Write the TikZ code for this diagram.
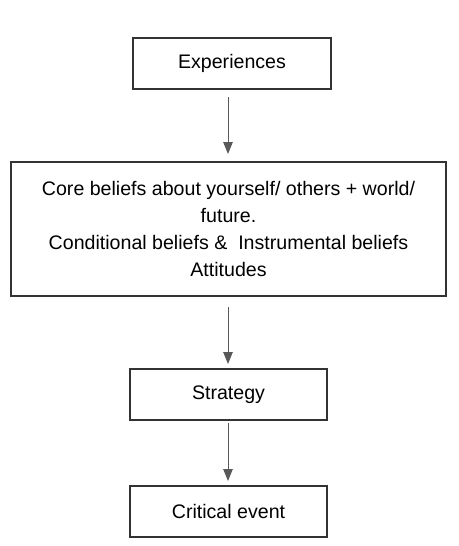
\documentclass[tikz,border=0pt]{standalone}
\usepackage{fontspec}
\setmainfont{Liberation Sans}
\usetikzlibrary{arrows.meta}
\definecolor{boxline}{HTML}{333333}
\definecolor{arrowline}{HTML}{595959}
\begin{document}
\begin{tikzpicture}[x=1pt,y=-1pt,
  box/.style={draw=boxline,line width=1.2pt,inner sep=0pt,font=\fontsize{19.6}{27.3}\selectfont,align=center},
  conn/.style={draw=arrowline,line width=1pt,-{Triangle[width=9.5pt,length=12pt]}}]
\useasboundingbox (0,0) rectangle (458,546);
\node[box,minimum width=198pt,minimum height=51pt] (exp) at (232,63.5) {Experiences};
\node[box,minimum width=435pt,minimum height=134pt] (core) at (228.5,229) {Core beliefs about yourself/ others + world/\\future.\\Conditional beliefs \&\ \ Instrumental beliefs\\Attitudes};
\node[box,minimum width=197pt,minimum height=51pt] (strat) at (228.5,394.5) {Strategy};
\node[box,minimum width=197pt,minimum height=51pt] (crit) at (228.5,511.5) {Critical event};
\coordinate (a1s) at (228,97);
\coordinate (a1e) at (228,154);
\coordinate (a2s) at (228,307);
\coordinate (a2e) at (228,364);
\coordinate (a3s) at (228,423);
\coordinate (a3e) at (228,481);
\draw[conn] (a1s) -- (a1e);
\draw[conn] (a2s) -- (a2e);
\draw[conn] (a3s) -- (a3e);
\end{tikzpicture}
\end{document}
